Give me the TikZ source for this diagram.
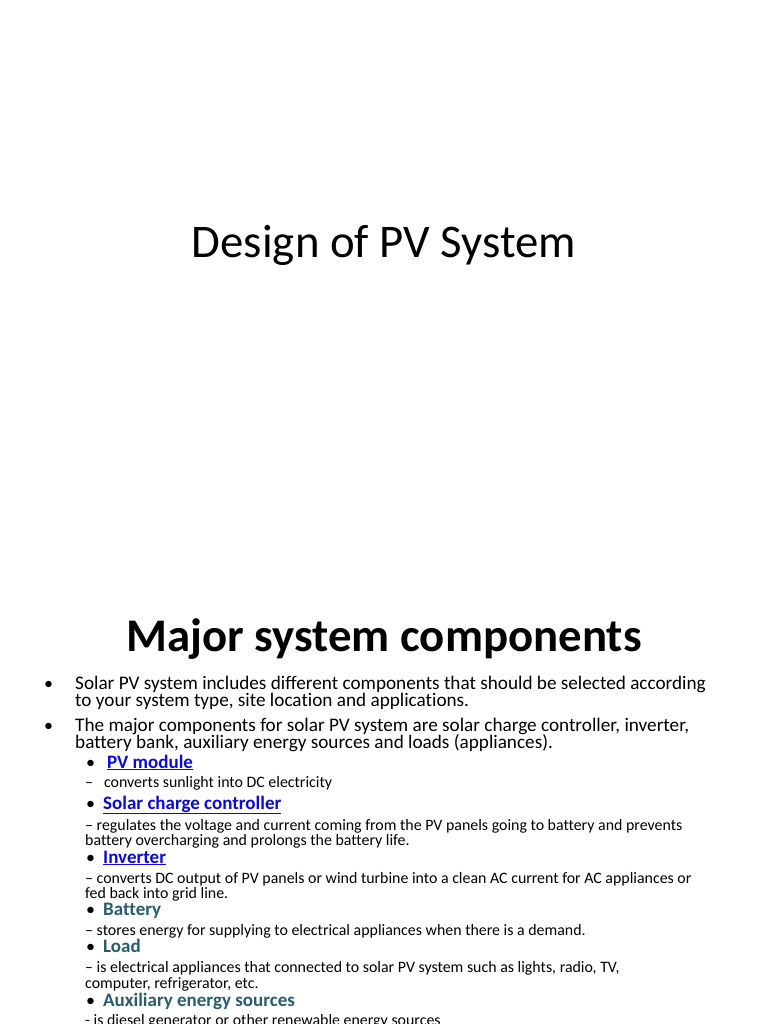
\documentclass[tikz,border=0pt]{standalone}
\usepackage{fontspec}
\setmainfont[Ligatures=NoCommon]{Carlito}
\definecolor{lnk}{RGB}{10,10,220}
\definecolor{tealh}{RGB}{40,92,110}
\begin{document}
\begin{tikzpicture}[x=1pt,y=-1pt,
  t/.style={anchor=base west,inner sep=0pt},
  body/.style={t,font=\fontsize{19.2}{22}\selectfont},
  sub/.style={t,font=\fontsize{15.9}{18}\selectfont},
  lk/.style={t,font=\fontsize{19}{22}\selectfont\bfseries,text=lnk},
  th/.style={t,font=\fontsize{19}{22}\selectfont\bfseries,text=tealh},
  bul/.style={t,font=\fontsize{18}{22}\selectfont}]
\useasboundingbox (0,0) rectangle (768,1024);
\node[anchor=base,inner sep=0pt,font=\fontsize{46.8}{52}\selectfont] (title) at (384,258) {Design of PV System};
\node[anchor=base,inner sep=0pt,font=\fontsize{46.8}{52}\selectfont\bfseries] (head) at (384,651) {Major system components};
\node[bul] (b1) at (44,689) {•};
\node[body] (l1) at (75,689) {Solar PV system includes different components that should be selected according};
\node[body] (l2) at (75,706) {to your system type, site location and applications.};
\node[bul] (b2) at (44,731) {•};
\node[body] (l3) at (75,731) {The major components for solar PV system are solar charge controller, inverter,};
\node[body] (l4) at (75,748) {battery bank, auxiliary energy sources and loads (appliances).};
\node[bul] (b3) at (86,768) {•};
\node[lk] (h1) at (107,768) {\underline{PV module}};
\node[sub] (d1) at (85,787) {–\hspace{11pt}converts sunlight into DC electricity};
\node[bul] (b4) at (86,809) {•};
\node[lk] (h2) at (103,809) {\underline{Solar charge controller}};
\node[sub] (d2) at (85,830) {– regulates the voltage and current coming from the PV panels going to battery and prevents};
\node[sub] (d3) at (85,845) {battery overcharging and prolongs the battery life.};
\node[bul] (b5) at (86,863) {•};
\node[lk] (h3) at (103,863) {\underline{Inverter}};
\node[sub] (d4) at (85,883) {– converts DC output of PV panels or wind turbine into a clean AC current for AC  appliances or};
\node[sub] (d5) at (85,898) {fed back into grid line.};
\node[bul] (b6) at (86,915) {•};
\node[th] (h4) at (103,915) {Battery};
\node[sub] (d6) at (85,935) {– stores energy for supplying to electrical appliances when there is a demand.};
\node[bul] (b7) at (86,952) {•};
\node[th] (h5) at (103,952) {Load};
\node[sub] (d7) at (85,972) {– is electrical appliances that connected to solar PV system such as lights, radio, TV,};
\node[sub] (d8) at (85,988) {computer,  refrigerator, etc.};
\node[bul] (b8) at (86,1006) {•};
\node[th] (h6) at (103,1006) {Auxiliary energy sources};
\node[sub] (d9) at (85,1025) {- is diesel generator or other renewable energy sources};
\end{tikzpicture}
\end{document}
